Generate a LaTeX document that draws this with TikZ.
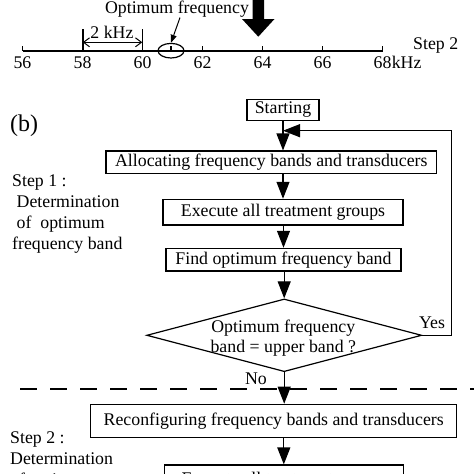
\documentclass[tikz,border=0pt]{standalone}
\usepackage{fontspec}
\setmainfont{Liberation Serif}
\usetikzlibrary{arrows.meta,shapes.geometric}

\tikzset{
	stepbox/.style={draw,line width=1.2pt,inner sep=0pt},
	decision/.style={draw,diamond,line width=1.2pt,inner sep=0pt,minimum width=275pt,minimum height=72.7pt},
	flow/.style={line width=1.2pt,-{Triangle[length=17pt,width=13pt]}},
	tickmark/.style={line width=1.6pt},
	plain/.style={inner sep=0pt},
}

\begin{document}
\begin{tikzpicture}[x=1pt,y=-1pt,font=\fontsize{17.8}{21}\selectfont]
	\clip (0,0) rectangle (474,474);

	% frequency axis of step 2
	\draw[line width=2.4pt] (22.5,50.7) -- (383.3,50.7);
	\foreach \f in {56,58,...,68} {
			\draw[tickmark] ({22.5+30*(\f-56)},50.7) -- ++(0,-5);
			\node[plain,anchor=base] (t\f) at ({22.5+30*(\f-56)},68.3) {\f};
		}
	\node[plain,anchor=base west] (khz) at (t68.base east) {kHz};
	\node[plain,anchor=base west] (steptwo) at (413,49.3) {Step 2};

	% band width 2 kHz
	\draw[tickmark] (82.7,29) -- (82.7,50.7); % 58 kHz
	\draw[tickmark] (142.3,29) -- (142.3,50.7); % 60 kHz
	\draw[line width=1pt,{Straight Barb[length=6pt,width=9pt]}-{Straight Barb[length=6pt,width=9pt]}] (82.7,42.3) -- (142.3,42.3);
	\node[plain,anchor=base] (bw) at (112,38.3) {2 kHz};

	% optimum frequency
	\node[draw,ellipse,line width=1.2pt,minimum width=26pt,minimum height=14.6pt,inner sep=0pt] (optf) at (171,50.7) {};
	\draw[tickmark] (optf.center) -- ++(0,-5); % 61 kHz
	\node[plain,anchor=base] (optlab) at (177,13.5) {Optimum frequency};
	\draw[line width=1pt,-{Triangle[length=8pt,width=6pt]}] ([xshift=3pt]optlab.south) -- (optf.north);

	% big arrow
	\fill (252.5,0) -- (264,0) -- (264,19) -- (274.5,19) -- (258.3,36.7) -- (242,19) -- (252.5,19) -- cycle;

	\node[plain,anchor=base west,font=\fontsize{24}{28}\selectfont] (b) at (10,131) {(b)};

	% flow chart
	\node[stepbox,minimum width=72pt,minimum height=21.4pt] (start) at (283,110) {Starting};
	\node[stepbox,minimum width=330.7pt,minimum height=22.3pt] (alloc) at (271.3,162.2) {Allocating frequency bands and transducers};
	\node[stepbox,minimum width=240pt,minimum height=25.7pt] (exec) at (283,212.2) {Execute all treatment groups};
	\node[stepbox,minimum width=235pt,minimum height=22.7pt] (find) at (283.5,259.7) {Find optimum frequency band};
	\node[decision] (dec) at (284.2,335.3) {};
	\node[plain,align=center,anchor=north,font=\fontsize{17.8}{20}\selectfont] (dectext) at (283.3,319.5) {Optimum frequency\\band = upper band ?};
	\node[stepbox,minimum width=366pt,minimum height=33pt] (reconf) at (273.7,420.8) {Reconfiguring frequency bands and transducers};
	\node[stepbox,minimum width=239pt,minimum height=30pt] (exectwo) at (283.8,480) {Execute all treatment groups};

	\coordinate (loopin) at (283,130.7);
	\coordinate (loopc) at (451.7,130.7);

	\draw[flow] (start) -- (start |- alloc.north);
	\draw[flow] (alloc.south -| exec) -- (exec.north);
	\draw[flow] (exec.south -| find) -- (find.north);
	\draw[flow] (find.south -| dec) -- (dec.north);
	\draw[flow] (dec.south) -- (dec.south |- reconf.north);
	\draw[flow] (reconf.south -| exectwo) -- (exectwo.north);
	\draw[flow] (dec.east) -| (loopc) -- (loopin); % back to allocating

	\node[plain,anchor=base] (yes) at (432,328.3) {Yes};
	\node[plain,anchor=base] (no) at (256,384) {No};

	% border between step 1 and step 2
	\draw[line width=1.8pt,dash pattern=on 17pt off 13pt] (20,389.3) -- (474,389.3);

	\node[plain,anchor=north west,align=left] (stepone) at (12,174.7) {Step 1 :\\ \ Determination\\ \ of\ \ optimum\\frequency band};
	\node[plain,anchor=north west,align=left] (steptwoleft) at (10,431.5) {Step 2 :\\Determination\\of optimum};
\end{tikzpicture}
\end{document}
